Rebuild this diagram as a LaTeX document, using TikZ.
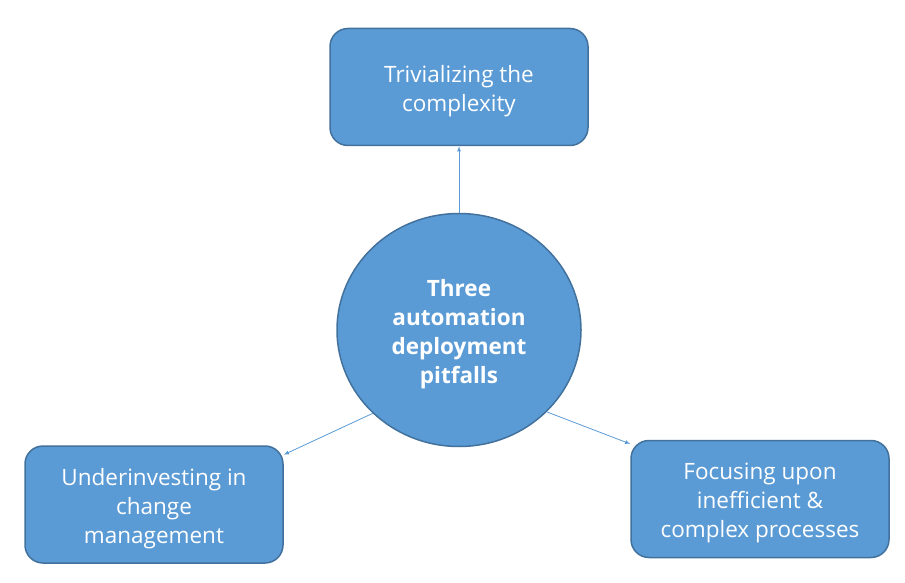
\documentclass[tikz,border=0pt]{standalone}
\usepackage{fontspec}
\setmainfont{Open Sans}
\usetikzlibrary{shapes.geometric}
\definecolor{boxfill}{HTML}{5B9BD5}
\definecolor{boxline}{HTML}{41719C}
\definecolor{arrowline}{HTML}{5B9BD5}

\begin{document}
\begin{tikzpicture}
[x=1pt,y=1pt,
 every node/.style={fill=boxfill,draw=boxline,line width=1.5pt,text=white,align=center},
 pitfall/.style={rounded corners=18pt,minimum width=258pt,minimum height=117pt,font=\fontsize{22.5}{29}\selectfont},
 hub/.style={ellipse,minimum width=244pt,minimum height=233pt,inner sep=0pt,font=\fontsize{22.5}{29}\selectfont\bfseries}]
\useasboundingbox (0,0) rectangle (905,582);
\node[hub] (hub) at (459,252) {\rule{0pt}{25pt}Three\\automation\\deployment\\pitfalls};
\node[pitfall] (trivial) at (459,495) {\rule{0pt}{25pt}Trivializing the\\complexity};
\node[pitfall] (underinv) at (154,77.5) {\rule{0pt}{25pt}Underinvesting in\\change\\management};
\node[pitfall] (focus) at (760,83) {\rule{0pt}{25pt}Focusing upon\\inefficient \&\\complex processes};
\foreach \from/\to in {hub.north/trivial.south,hub.224/underinv.21,hub.317/focus.157}
\draw[draw=arrowline,line width=0.8pt,-latex] (\from) -- (\to);
\end{tikzpicture}
\end{document}
